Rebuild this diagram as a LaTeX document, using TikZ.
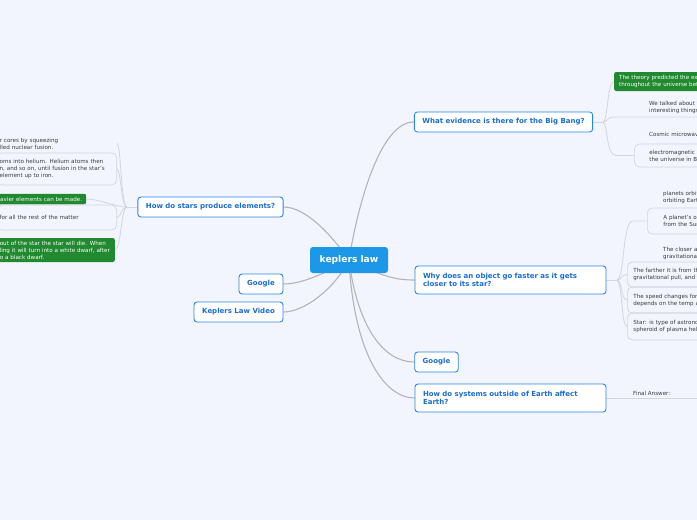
\documentclass[tikz,border=0pt]{standalone}
\usepackage{fontspec}
\setmainfont{DejaVu Sans}
\usetikzlibrary{calc,backgrounds}
\definecolor{bg}{HTML}{F2F5FD}
\definecolor{rootblue}{HTML}{1D97E8}
\definecolor{mainblue}{HTML}{2A86E6}
\definecolor{maintext}{HTML}{1A6DD2}
\definecolor{linegray}{HTML}{B4B4B8}
\definecolor{subline}{HTML}{D2D5DC}
\definecolor{subtext}{HTML}{3A3A3A}
\definecolor{leafgreen}{HTML}{21892F}
\tikzset{
  mainbox/.style={draw=mainblue, line width=0.9pt, fill=white, rounded corners=3pt,
    font=\fontsize{7}{8.6}\selectfont\bfseries, text=maintext, inner xsep=8pt, inner ysep=0pt,
    align=left, minimum height=20pt},
  rootbox/.style={fill=rootblue, rounded corners=3pt, minimum width=78pt, minimum height=26pt,
    text=white, font=\fontsize{9.1}{11}\selectfont\bfseries},
  subtxt/.style={font=\fontsize{5.6}{7}\selectfont, text=subtext, align=left, inner sep=0pt},
  subbox/.style={subtxt, draw=subline, line width=0.7pt, rounded corners=5pt, inner xsep=5pt, inner ysep=0pt},
  greenbox/.style={subtxt, fill=leafgreen, text=white, rounded corners=2pt, inner xsep=4pt, inner ysep=0pt},
  conn/.style={draw=linegray, line width=1.1pt},
  subconn/.style={draw=subline, line width=0.8pt}
}
\begin{document}
\begin{tikzpicture}[x=1pt,y=-1pt]
\useasboundingbox (0,0) rectangle (697,520);
\begin{scope}[on background layer]
\fill[bg] (0,0) rectangle (697,520);
\end{scope}
\clip (0,0) rectangle (697,520);

% main nodes
\node[rootbox] (root) at (349,260) {keplers law};
\node[mainbox, minimum width=145pt] (stars) at (210.5,207) {How do stars produce elements?};
\node[mainbox, minimum width=44pt] (googleL) at (261,284) {Google};
\node[mainbox, minimum width=89pt] (video) at (238.5,312) {Keplers Law Video};
\node[mainbox, minimum width=177pt] (bigbang) at (503.5,122) {What evidence is there for the Big Bang?};
\node[mainbox, text width=175pt, minimum height=28pt] (why) at (510.5,280) {Why does an object go faster as it gets\\closer to its star?};
\node[mainbox, minimum width=43pt] (googleR) at (436.5,362) {Google};
\node[mainbox, text width=175pt, minimum height=28pt] (systems) at (510.5,398) {How do systems outside of Earth affect\\Earth?};

% left subtopics
\node[subtxt, text width=114pt, inner xsep=3pt, anchor=east] (l1) at (117,143.5) {r cores by squeezing\\lled nuclear fusion.};
\node[subbox, text width=114pt, inner xsep=3pt, anchor=east, minimum height=32pt] (l2) at (117,169) {oms into helium. Helium atoms then\\n, and so on, until fusion in the star's\\element up to iron.};
\node[greenbox, anchor=west, minimum width=88pt, minimum height=10.5pt] (l3) at (-4,199) {avier elements can be made.};
\node[subbox, text width=114pt, inner xsep=3pt, anchor=east, minimum height=25pt] (l4) at (117,217.5) {for all the rest of the matter};
\node[greenbox, text width=113pt, inner xsep=2pt, anchor=east, minimum height=24pt] (l5) at (115,250) {out of the star the star will die. When\\ling it will turn into a white dwarf, after\\o a black dwarf.};

% right: big bang children
\node[greenbox, text width=100pt, anchor=west, minimum height=19pt, inner xsep=5pt] (r1) at (614,81.5) {The theory predicted the exi\\throughout the universe befo};
\node[subtxt, anchor=west, text width=60pt] (r2) at (649,107.5) {We talked about t\\interesting things};
\node[subtxt, anchor=west] (r3) at (649,134) {Cosmic microwave};
\node[subbox, anchor=west, text width=80pt, inner xsep=15pt, minimum height=23pt] (r4) at (634,155.5) {electromagnetic r\\the universe in B};

% right: why children
\node[subtxt, anchor=west, text width=60pt] (w1) at (663,197.5) {planets orbit\\orbiting Eart};
\node[subbox, anchor=west, text width=80pt, inner xsep=16pt, minimum height=26pt] (w2) at (647,221) {A planet's or\\from the Sun};
\node[subtxt, anchor=west, text width=60pt] (w3) at (663,253.5) {The closer a\\gravitational};
\node[subbox, anchor=west, text width=90pt, inner xsep=6pt, minimum height=25pt] (w4) at (627,274.5) {The farther it is from th\\gravitational pull, and t};
\node[subbox, anchor=west, text width=90pt, inner xsep=6pt, minimum height=26pt] (w5) at (627,300) {The speed changes for\\depends on the temp a};
\node[subbox, anchor=west, text width=90pt, inner xsep=6pt, minimum height=27pt] (w6) at (627,326.5) {Star: is type of astrono\\spheroid of plasma hel};

% right: systems child
\node[subtxt, anchor=west] (fa) at (633,393) {Final Answer:};

% branch points
\coordinate (sb) at (127,207);
\coordinate (bb) at (603,122);
\coordinate (wb) at (617,280);
\coordinate (r2u) at (613,117);
\coordinate (r2end) at (700,117);
\coordinate (faend) at (700,398);

\begin{scope}[on background layer]
% main connectors
\draw[conn] (root.center) .. controls (356,215) and (378,122) .. (bigbang.west);
\draw[conn] (root.center) .. controls (330,233) and (305,207) .. (stars.east);
\draw[conn] (root.center) .. controls (320,276) and (300,284) .. (googleL.east);
\draw[conn] (root.center) .. controls (335,288) and (305,312) .. (video.east);
\draw[conn] (root.center) .. controls (385,278) and (398,280) .. (why.west);
\draw[conn] (root.center) .. controls (358,330) and (385,362) .. (googleR.west);
\draw[conn] (root.center) .. controls (354,355) and (385,398) .. (systems.west);

% left sub connectors
\draw[subconn] (stars.west) -- (sb);
\draw[subconn] (sb) .. controls (121,207) and (121,143.5) .. (l1.east);
\draw[subconn] (sb) .. controls (121,207) and (121,169) .. (l2.east);
\draw[subconn] (sb) .. controls (115,207) and (100,199) .. (l3.east);
\draw[subconn] (sb) .. controls (121,207) and (121,217.5) .. (l4.east);
\draw[subconn] (sb) .. controls (121,207) and (121,250) .. (l5.east);

% big bang sub connectors
\draw[subconn] (bigbang.east) -- (bb);
\draw[subconn] (bb) .. controls (608,122) and (607,81.5) .. (r1.west);
\draw[subconn] (bb) .. controls (607,122) and (608,117) .. (r2u) -- (r2end);
\draw[subconn] (bb) .. controls (608,124) and (606,155.5) .. (616,155.5) -- (r4.west);

% why sub connectors
\draw[subconn] (why.east) -- (wb);
\draw[subconn] (wb) .. controls (625,278) and (622,221) .. (633,221) -- (w2.west);
\draw[subconn] (wb) .. controls (622,280) and (621,274.5) .. (w4.west);
\draw[subconn] (wb) .. controls (622,280) and (621,300) .. (w5.west);
\draw[subconn] (wb) .. controls (623,285) and (621,326.5) .. (w6.west);

% systems connector
\draw[subconn] (systems.east) -- (faend);
\end{scope}
\end{tikzpicture}
\end{document}
